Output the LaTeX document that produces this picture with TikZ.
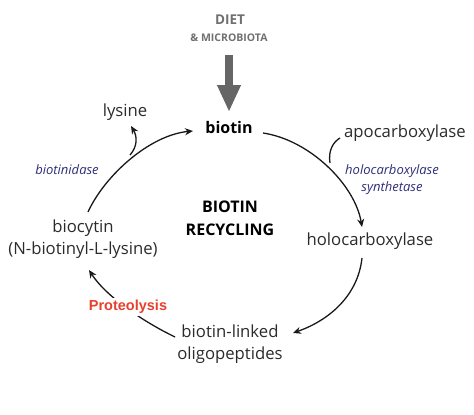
\documentclass[tikz,border=0pt]{standalone}
\usepackage{fontspec}
\setmainfont{Open Sans}
\newfontfamily\arialfont{Liberation Sans}
\usetikzlibrary{arrows.meta}
\definecolor{txt}{HTML}{2B2B2B}
\definecolor{enz}{HTML}{2E2E7A}
\definecolor{prot}{HTML}{E8402E}
\definecolor{dietgray}{HTML}{707070}
\definecolor{arrgray}{HTML}{666666}
\tikzset{
  lbl/.style={text=txt, font=\fontsize{16.7}{20}\selectfont, inner sep=1pt, align=center},
  enzlbl/.style={text=enz, font=\fontsize{13}{17}\selectfont\itshape, inner sep=1pt, align=center},
  conn/.style={draw=black!90, line width=1.3pt, -{Stealth[length=8pt,width=7pt]}},
  hook/.style={draw=black!90, line width=1.3pt},
}
\begin{document}
\begin{tikzpicture}[x=1pt,y=-1pt]
\useasboundingbox (0,0) rectangle (474,415);
% top
\node[text=dietgray, font=\fontsize{13.5}{15}\selectfont\bfseries] (diet) at (230,20) {DIET};
\node[text=dietgray, font=\fontsize{10.5}{12}\selectfont\bfseries] (micro) at (229,38) {\& MICROBIOTA};
\coordinate (gtop) at (229,55);
\coordinate (gtip) at (229,112);
\draw[arrgray, line width=8pt, -{Triangle[length=27pt,width=22pt]}] (gtop) -- (gtip);
% nodes
\node[lbl, font=\fontsize{16}{18}\selectfont\bfseries, text=black] (biotin) at (229,127) {biotin};
\node[lbl] (lysine) at (125,112) {lysine};
\node[lbl] (apo) at (405,133) {apocarboxylase};
\node[enzlbl] (hcs) at (392,180) {holocarboxylase\\synthetase};
\node[lbl] (holo) at (370,241) {holocarboxylase};
\node[lbl, font=\fontsize{16.7}{22}\selectfont] (biocytin) at (83,239) {biocytin\\(N-biotinyl-L-lysine)};
\node[lbl, font=\fontsize{16.7}{22}\selectfont] (oligo) at (230,344) {biotin-linked\\oligopeptides};
\node[lbl, font=\fontsize{16}{23}\selectfont\bfseries, text=black] (recyc) at (230,218) {BIOTIN\\RECYCLING};
\node[enzlbl] (bdase) at (67,170) {biotinidase};
% connectors
\coordinate (a1s) at (88,212);
\coordinate (a1e) at (193,131);
\draw[conn] (a1s) .. controls (105,175) and (150,135) .. (a1e);
\coordinate (bs) at (130,155);
\coordinate (be) at (131,126);
\draw[conn] (bs) .. controls (138,146) and (137,136) .. (be);
\coordinate (a2s) at (263,133);
\coordinate (a2e) at (362,227);
\draw[conn] (a2s) .. controls (310,140) and (355,185) .. (a2e);
\coordinate (hs) at (330,163);
\coordinate (he) at (340,138);
\draw[hook] (hs) .. controls (328,151) and (333,142) .. (he);
\coordinate (a3s) at (362,258);
\coordinate (a3e) at (293,333);
\draw[conn] (a3s) .. controls (358,295) and (330,320) .. (a3e);
\coordinate (a4s) at (175,337);
\coordinate (a4e) at (89,270);
\draw[conn] (a4s) .. controls (140,320) and (105,295) .. (a4e);
\node[fill=white, text=prot, font=\arialfont\fontsize{14.5}{16}\selectfont\bfseries, inner sep=2pt] (prot) at (128,307) {Proteolysis};
\end{tikzpicture}
\end{document}
